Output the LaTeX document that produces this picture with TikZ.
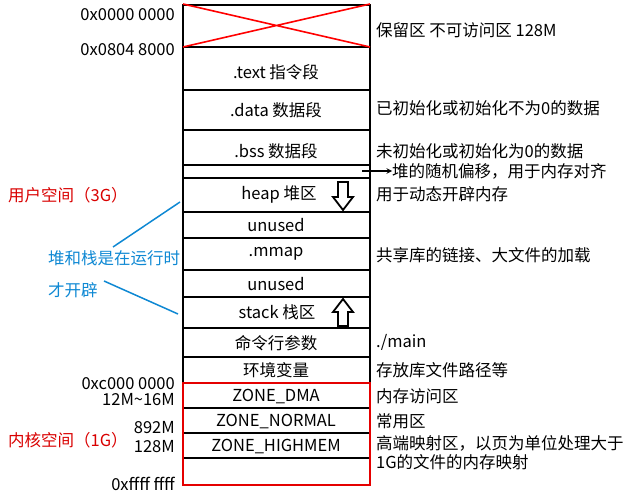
\documentclass[tikz,border=0pt]{standalone}
\usepackage{fontspec}
\setmainfont{Noto Sans CJK SC}
\begin{document}
\begin{tikzpicture}[x=1pt,y=-1pt,
  every node/.style={font=\fontsize{16.5}{18}\selectfont, inner sep=0pt},
  row/.style={draw=black, line width=2.6pt},
  lab/.style={anchor=west},
  addr/.style={anchor=east},
  blue/.style={text=cyan!70!blue},
  redt/.style={text=red!85!black}]
\useasboundingbox (0,0) rectangle (626,494);
% boxes
\foreach \a/\b in {5/47,47/90,90/130,130/165,165/178,178/212,212/238,238/270,270/297,297/328,328/357,357/383}
  \draw[row] (183,\a) rectangle (370,\b);
\draw[row] (183,408) -- (370,408);
\draw[row] (183,433) -- (370,433);
\draw[row] (183,458) -- (370,458);
\draw[red, line width=1.6pt] (183,4) -- (370,47) (183,47) -- (370,4);
\draw[red!90!black, line width=2.6pt] (183,383) rectangle (370,485);
% row texts
\node (t1) at (276,72) {.text 指令段};
\node (t2) at (276,110) {.data 数据段};
\node (t3) at (276,151) {.bss 数据段};
\node (t4) at (279,195) {heap 堆区};
\node (t5) at (276,225) {unused};
\node (t6) at (276,254) {.mmap};
\node (t7) at (276,284) {unused};
\node (t8) at (277,312) {stack 栈区};
\node (t9) at (276,343) {命令行参数};
\node (t10) at (276,370) {环境变量};
\node (t11) at (276,396) {ZONE\_DMA};
\node (t12) at (276,421) {ZONE\_NORMAL};
\node (t13) at (276,446) {ZONE\_HIGHMEM};
% hollow arrows
\draw[line width=1.8pt] (338,182) -- (348,182) -- (348,197) -- (353,197) -- (343,210) -- (333,197) -- (338,197) -- cycle;
\draw[line width=1.8pt] (338,326) -- (348,326) -- (348,312) -- (353,312) -- (343,299) -- (333,312) -- (338,312) -- cycle;
% left addresses
\node[addr] (a1) at (175,15) {0x0000 0000};
\node[addr] (a2) at (175,50) {0x0804 8000};
\node[addr] (a3) at (175,384) {0xc000 0000};
\node[addr] (a4) at (175,400) {12M\textasciitilde16M};
\node[addr] (a5) at (175,428) {892M};
\node[addr] (a6) at (175,447) {128M};
\node[addr] (a7) at (175,484) {0xffff ffff};
\node[lab,redt] (u) at (8,195) {用户空间（3G）};
\node[lab,redt] (k) at (8,440) {内核空间（1G）};
\node[lab,blue] (b1) at (48,258) {堆和栈是在运行时};
\node[lab,blue] (b2) at (48,290) {才开辟};
\coordinate (h) at (180,202);
\coordinate (s) at (178,314);
\draw[cyan!70!blue, line width=1.5pt] (113,247) -- (h);
\draw[cyan!70!blue, line width=1.5pt] (104,281) -- (s);
% right labels
\node[lab] (r1) at (376,30) {保留区 不可访问区 128M};
\node[lab] (r2) at (376,108) {已初始化或初始化不为0的数据};
\node[lab] (r3) at (376,151) {未初始化或初始化为0的数据};
\node[lab] (r4) at (392,171) {堆的随机偏移，用于内存对齐};
\coordinate (r4s) at (362,171);
\draw[line width=1.4pt,-stealth] (r4s) -- (r4.west);
\node[lab] (r5) at (376,194) {用于动态开辟内存};
\node[lab] (r6) at (376,255) {共享库的链接、大文件的加载};
\node[lab] (r7) at (376,342) {./main};
\node[lab] (r8) at (376,370) {存放库文件路径等};
\node[lab] (r9) at (376,396) {内存访问区};
\node[lab] (r10) at (376,421) {常用区};
\node[lab] (r11) at (376,443) {高端映射区，以页为单位处理大于};
\node[lab] (r12) at (376,462) {1G的文件的内存映射};
\end{tikzpicture}
\end{document}
